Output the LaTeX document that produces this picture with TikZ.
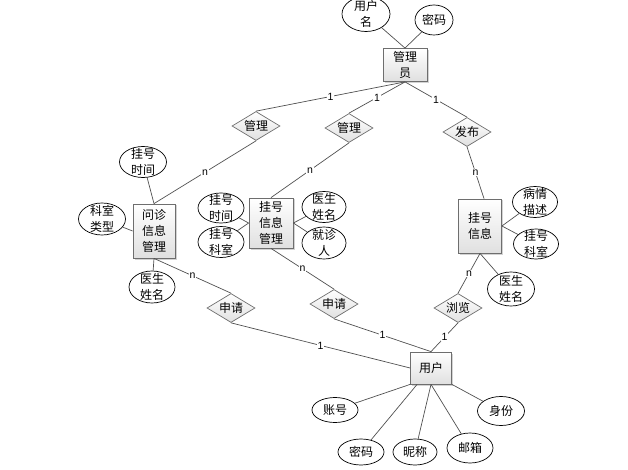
\documentclass[tikz,border=0pt]{standalone}
\usepackage{fontspec}
\setmainfont{Noto Sans CJK SC}
\newfontfamily\cardfont{Liberation Sans}
\usetikzlibrary{shapes.geometric,shadows}
\definecolor{linegray}{HTML}{505050}
\definecolor{boxgray}{HTML}{6E6E6E}
\definecolor{shadegray}{HTML}{E0E0E0}

\begin{document}
\begin{tikzpicture}[x=1pt, y=-1pt,
    font=\fontsize{12}{16}\selectfont,
    sz/.style 2 args={minimum width=#1pt, minimum height=#2pt},
    entity/.style={rectangle, draw=boxgray, line width=0.8pt, top color=white,
      bottom color=shadegray, align=center, inner sep=0pt,
      drop shadow={shadow xshift=1.5pt, shadow yshift=-1.5pt, opacity=0.35}},
    relation/.style={diamond, aspect=1.6, draw=boxgray, line width=0.7pt,
      top color=white, bottom color=shadegray, inner sep=0pt, sz={48}{29}},
    attr/.style={ellipse, draw=black, line width=0.7pt, fill=white,
      align=center, inner sep=-4pt},
    link/.style={draw=linegray, line width=0.7pt},
    card/.style={font=\fontsize{10.5}{11}\cardfont, fill=white, inner sep=0.6pt}
  ]
  \useasboundingbox (0,0) rectangle (628,470);
  % Entites
  \node[entity, sz={44}{33}] (admin) at (405,65) {管理\\员};
  \node[entity, sz={42}{54}] (consult) at (154,231) {问诊\\信息\\管理};
  \node[entity, sz={44}{50}] (regMgr) at (271,223) {挂号\\信息\\管理};
  \node[entity, sz={43}{54}] (regInfo) at (480,226) {挂号\\信息};
  \node[entity, sz={41}{32}] (user) at (431,368) {用户};
  % Relations
  \node[relation] (mgrA) at (256,126) {管理};
  \node[relation] (mgrB) at (349,128) {管理};
  \node[relation] (pub) at (467,132) {发布};
  \node[relation] (applyA) at (231,308) {申请};
  \node[relation] (applyB) at (334,304) {申请};
  \node[relation] (browse) at (458,308) {浏览};
  % Attributs
  \node[attr, sz={48}{35}] (adminName) at (366,14) {用户\\名};
  \node[attr, sz={38}{30}] (adminPwd) at (434,20) {密码};
  \node[attr, sz={47}{31}] (cTime) at (143,162) {挂号\\时间};
  \node[attr, sz={47}{32}] (cDept) at (102,219) {科室\\类型};
  \node[attr, sz={46}{32}] (cDoc) at (152,287) {医生\\姓名};
  \node[attr, sz={46}{30}] (rTime) at (221,208) {挂号\\时间};
  \node[attr, sz={46}{31}] (rDept) at (221,242) {挂号\\科室};
  \node[attr, sz={44}{31}] (rDoc) at (324,207) {医生\\姓名};
  \node[attr, sz={44}{32}] (rPatient) at (324,243) {就诊\\人};
  \node[attr, sz={45}{31}] (iDesc) at (535,202) {病情\\描述};
  \node[attr, sz={45}{30}] (iDept) at (536,244) {挂号\\科室};
  \node[attr, sz={47}{34}] (iDoc) at (511,289) {医生\\姓名};
  \node[attr, sz={46}{25}] (uAcc) at (335,410) {账号};
  \node[attr, sz={47}{29}] (uRole) at (501,411) {身份};
  \node[attr, sz={46}{26}] (uPwd) at (361,452) {密码};
  \node[attr, sz={44}{26}] (uNick) at (415,452) {昵称};
  \node[attr, sz={46}{30}] (uMail) at (470,448) {邮箱};
  % Liens des relations
  \draw[link] (admin.south) -- node[card]{1} (mgrA.north);
  \draw[link] (mgrA.south) -- node[card]{n} (consult.north);
  \draw[link] (admin.south) -- node[card]{1} (mgrB.north);
  \draw[link] (mgrB.south) -- node[card]{n} (regMgr.north);
  \draw[link] (admin.south) -- node[card]{1} (pub.north);
  \draw[link] (pub.south) -- node[card]{n} ([xshift=4pt]regInfo.north);
  \draw[link] (consult.south) -- node[card]{n} (applyA.north);
  \draw[link] (applyA.south) -- node[card]{1} (user.west);
  \draw[link] (regMgr.south) -- node[card]{n} (applyB.north);
  \draw[link] (applyB.south) -- node[card]{1} (user.north);
  \draw[link] (regInfo.south) -- node[card]{n} (browse.north);
  \draw[link] (browse.south) -- node[card]{1} (user.north);
  % Liens des attributs
  \draw[link] (admin.north) -- (adminName);
  \draw[link] (admin.north) -- (adminPwd);
  \draw[link] (consult.north) -- (cTime);
  \draw[link] (consult.west) -- (cDept);
  \draw[link] (consult.south) -- (cDoc);
  \draw[link] (regMgr.west) -- (rTime);
  \draw[link] (regMgr.west) -- (rDept);
  \draw[link] (regMgr.east) -- (rDoc);
  \draw[link] (regMgr.east) -- (rPatient);
  \draw[link] (regInfo.east) -- (iDesc);
  \draw[link] (regInfo.east) -- (iDept);
  \draw[link] (regInfo.south) -- (iDoc);
  \draw[link] (user.south west) -- (uAcc);
  \draw[link] ([xshift=7pt]user.south west) -- (uPwd);
  \draw[link] (user.south) -- (uNick);
  \draw[link] (user.south) -- (uMail);
  \draw[link] (user.south east) -- (uRole);
\end{tikzpicture}
\end{document}
